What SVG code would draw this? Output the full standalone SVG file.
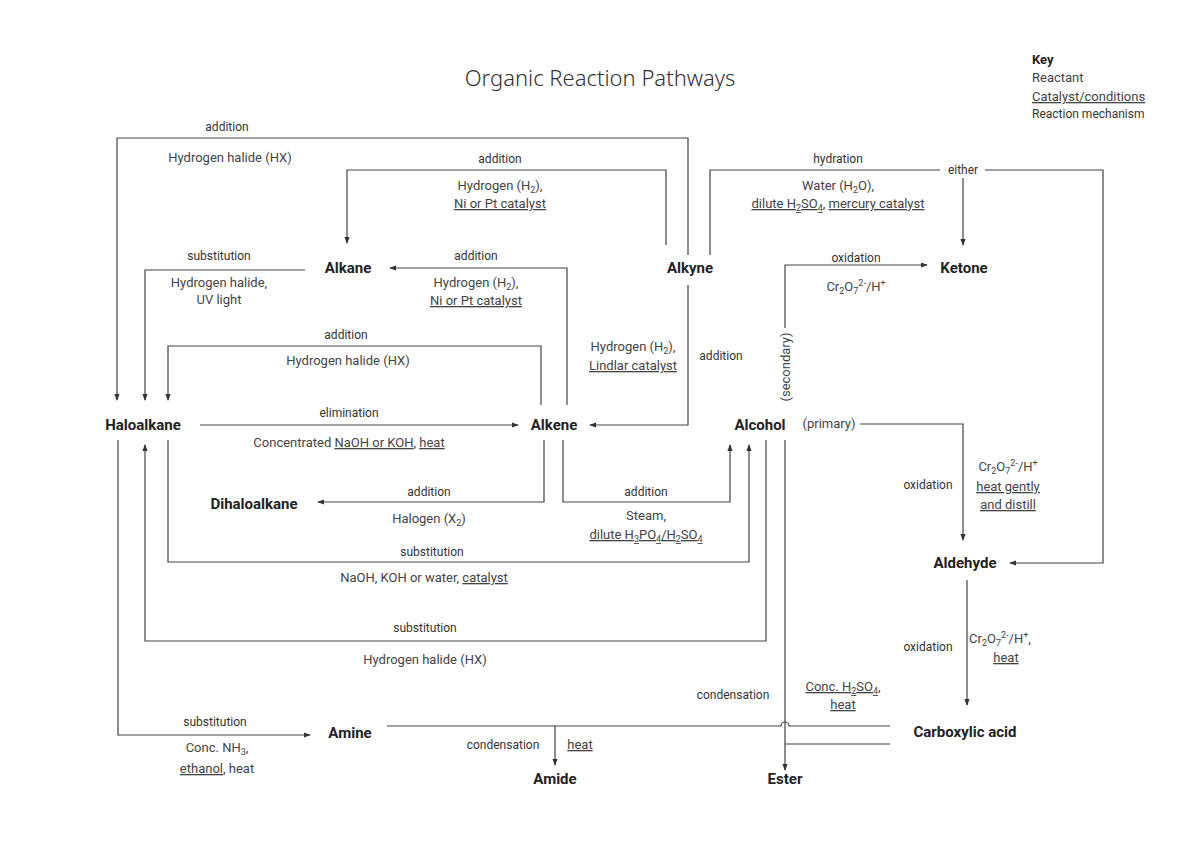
<svg xmlns="http://www.w3.org/2000/svg" width="1200" height="849" viewBox="0 0 1200 849">
<defs>
<marker id="ar" viewBox="0 0 8 8" refX="7" refY="4" markerWidth="6" markerHeight="6" orient="auto"><path d="M0,1 L8,4 L0,7 Z" fill="#333"/></marker>
<style>
text{font-family:Roboto,"Liberation Sans",sans-serif;text-anchor:middle}
.n{font-size:15px;font-weight:bold;fill:#222}
.m{font-size:12px;fill:#333}
.c{font-size:13px;fill:#444}
.u{text-decoration:underline}
.c tspan.s{font-size:9px}
.l{fill:none;stroke:#444;stroke-width:1.2}
.a{marker-end:url(#ar)}
</style>
</defs>
<rect width="1200" height="849" fill="#fff"/>
<text x="600" y="86" style="font-size:22px;fill:#333;font-family:'Noto Sans',Roboto,sans-serif;font-weight:300">Organic Reaction Pathways</text>
<g id="key" style="font-size:13px">
<text x="1032" y="64" style="text-anchor:start;font-weight:bold;fill:#222;font-size:13px">Key</text>
<text x="1032" y="82" class="c" style="text-anchor:start">Reactant</text>
<text x="1032" y="101" class="c u" style="text-anchor:start">Catalyst/conditions</text>
<text x="1032" y="118" class="m" style="text-anchor:start">Reaction mechanism</text>
</g>
<g id="connectors">
<path class="l a" d="M688,255 V138 H117 V400"/>
<path class="l a" d="M666,245 V170 H347 V243"/>
<path class="l a" d="M567,405 V268 H390"/>
<path class="l a" d="M305,270 H145 V400"/>
<path class="l a" d="M541,405 V346 H168 V400"/>
<path class="l a" d="M200,425 H518"/>
<path class="l a" d="M688,285 V425 H590"/>
<path class="l a" d="M544,440 V502 H318"/>
<path class="l a" d="M563,440 V502 H730 V445"/>
<path class="l a" d="M168,440 V562 H749 V445"/>
<path class="l a" d="M766,440 V641 H145 V445"/>
<path class="l a" d="M118,440 V735 H310"/>
<path class="l" d="M387,726 H781 A4,4 0 0 1 789,726 H890"/>
<path class="l a" d="M555,726 V765"/>
<path class="l a" d="M785,440 V770"/>
<path class="l" d="M785,744 H890"/>
<path class="l a" d="M860,424 H963 V540"/>
<path class="l a" d="M967,580 V705"/>
<path class="l a" d="M710,255 V170 H940 M985,170 H1103 V563 H1010"/>
<path class="l a" d="M963,178 V245"/>
<path class="l a" d="M785,328 V265 H927"/>
</g>
<g id="labels">
<text x="227" y="131" class="m">addition</text>
<text x="230" y="162" class="c">Hydrogen halide (HX)</text>
<text x="500" y="163" class="m">addition</text>
<text x="500" y="190" class="c">Hydrogen (H<tspan class="s" dy="3">2</tspan><tspan dy="-3">),</tspan></text>
<text x="500" y="208" class="c u">Ni or Pt catalyst</text>
<text x="476" y="260" class="m">addition</text>
<text x="476" y="287" class="c">Hydrogen (H<tspan class="s" dy="3">2</tspan><tspan dy="-3">),</tspan></text>
<text x="476" y="305" class="c u">Ni or Pt catalyst</text>
<text x="219" y="260" class="m">substitution</text>
<text x="219" y="287" class="c">Hydrogen halide,</text>
<text x="219" y="304" class="c">UV light</text>
<text x="346" y="339" class="m">addition</text>
<text x="348" y="365" class="c">Hydrogen halide (HX)</text>
<text x="349" y="417" class="m">elimination</text>
<text x="349" y="447" class="c">Concentrated <tspan class="u">NaOH or KOH</tspan>, <tspan class="u">heat</tspan></text>
<text x="633" y="351" class="c">Hydrogen (H<tspan class="s" dy="3">2</tspan><tspan dy="-3">),</tspan></text>
<text x="633" y="370" class="c u">Lindlar catalyst</text>
<text x="721" y="360" class="m">addition</text>
<text x="429" y="496" class="m">addition</text>
<text x="429" y="523" class="c">Halogen (X<tspan class="s" dy="3">2</tspan><tspan dy="-3">)</tspan></text>
<text x="646" y="496" class="m">addition</text>
<text x="646" y="520" class="c">Steam,</text>
<text x="646" y="539" class="c u">dilute H<tspan class="s" dy="3">3</tspan><tspan dy="-3">PO</tspan><tspan class="s" dy="3">4</tspan><tspan dy="-3">/H</tspan><tspan class="s" dy="3">2</tspan><tspan dy="-3">SO</tspan><tspan class="s" dy="3">4</tspan></text>
<text x="432" y="556" class="m">substitution</text>
<text x="424" y="582" class="c">NaOH, KOH or water, <tspan class="u">catalyst</tspan></text>
<text x="425" y="632" class="m">substitution</text>
<text x="425" y="664" class="c">Hydrogen halide (HX)</text>
<text x="215" y="726" class="m">substitution</text>
<text x="217" y="752" class="c">Conc. NH<tspan class="s" dy="3">3</tspan><tspan dy="-3">,</tspan></text>
<text x="217" y="773" class="c"><tspan class="u">ethanol</tspan>, heat</text>
<text x="503" y="749" class="m">condensation</text>
<text x="580" y="749" class="c u">heat</text>
<text x="733" y="699" class="m">condensation</text>
<text x="843" y="691" class="c u">Conc. H<tspan class="s" dy="3">2</tspan><tspan dy="-3">SO</tspan><tspan class="s" dy="3">4</tspan><tspan dy="-3">,</tspan></text>
<text x="843" y="709" class="c u">heat</text>
<text x="829" y="428" class="c">(primary)</text>
<text x="928" y="489" class="m">oxidation</text>
<text x="1008" y="471" class="c">Cr<tspan class="s" dy="3">2</tspan><tspan dy="-3">O</tspan><tspan class="s" dy="3">7</tspan><tspan class="s" dy="-8">2-</tspan><tspan dy="5">/H</tspan><tspan class="s" dy="-5">+</tspan></text>
<text x="1008" y="491" class="c u">heat gently</text>
<text x="1008" y="509" class="c u">and distill</text>
<text x="928" y="651" class="m">oxidation</text>
<text x="1000" y="643" class="c">Cr<tspan class="s" dy="3">2</tspan><tspan dy="-3">O</tspan><tspan class="s" dy="3">7</tspan><tspan class="s" dy="-8">2-</tspan><tspan dy="5">/H</tspan><tspan class="s" dy="-5">+</tspan><tspan dy="5">,</tspan></text>
<text x="1006" y="662" class="c u">heat</text>
<text x="838" y="163" class="m">hydration</text>
<text x="838" y="190" class="c">Water (H<tspan class="s" dy="3">2</tspan><tspan dy="-3">O),</tspan></text>
<text x="838" y="208" class="c"><tspan class="u">dilute H<tspan class="s" dy="3">2</tspan><tspan dy="-3">SO</tspan><tspan class="s" dy="3">4</tspan></tspan><tspan dy="-3">, </tspan><tspan class="u">mercury catalyst</tspan></text>
<text x="963" y="174" class="m">either</text>
<text x="856" y="262" class="m">oxidation</text>
<text x="856" y="291" class="c">Cr<tspan class="s" dy="3">2</tspan><tspan dy="-3">O</tspan><tspan class="s" dy="3">7</tspan><tspan class="s" dy="-8">2-</tspan><tspan dy="5">/H</tspan><tspan class="s" dy="-5">+</tspan></text>
<text x="0" y="0" class="c" transform="translate(790,367) rotate(-90)">(secondary)</text>
</g>
<g id="alkane"><text x="348" y="273" class="n">Alkane</text></g>
<g id="alkyne"><text x="690" y="273" class="n">Alkyne</text></g>
<g id="ketone"><text x="964" y="273" class="n">Ketone</text></g>
<g id="haloalkane"><text x="143" y="430" class="n">Haloalkane</text></g>
<g id="alkene"><text x="554" y="430" class="n">Alkene</text></g>
<g id="alcohol"><text x="760" y="430" class="n">Alcohol</text></g>
<g id="dihaloalkane"><text x="254" y="509" class="n">Dihaloalkane</text></g>
<g id="aldehyde"><text x="965" y="568" class="n">Aldehyde</text></g>
<g id="amine"><text x="350" y="738" class="n">Amine</text></g>
<g id="carboxylic"><text x="965" y="737" class="n">Carboxylic acid</text></g>
<g id="amide"><text x="555" y="784" class="n">Amide</text></g>
<g id="ester"><text x="785" y="784" class="n">Ester</text></g>
</svg>
